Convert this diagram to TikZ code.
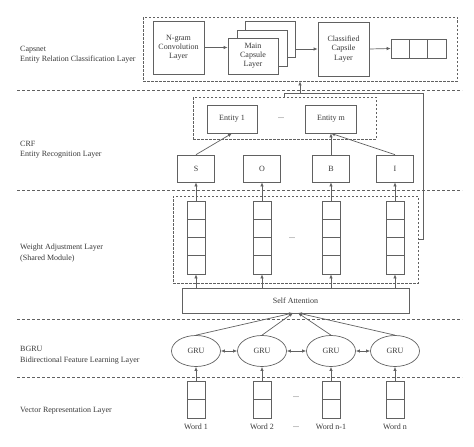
\documentclass[tikz,border=0pt]{standalone}
\usepackage{fontspec}
\setmainfont{Liberation Serif}
\usetikzlibrary{arrows.meta,shapes.geometric}
\definecolor{linegray}{gray}{0.38}
\definecolor{textgray}{gray}{0.22}
\tikzset{
  box/.style={draw=linegray,line width=0.7pt,inner sep=0pt,align=center,text=textgray,font=\fontsize{8}{9.2}\selectfont},
  cell/.style={draw=linegray,line width=0.7pt,minimum width=18pt,minimum height=18.25pt,inner sep=0pt},
  dashbox/.style={draw=linegray,line width=0.7pt,dash pattern=on 2.5pt off 1.5pt,inner sep=0pt},
  sepline/.style={draw=linegray,line width=0.7pt,dash pattern=on 3pt off 2pt},
  link/.style={draw=linegray,line width=0.7pt},
  arr/.style={link,-{Latex[length=4pt,width=3.5pt]}},
  darr/.style={link,{Latex[length=4pt,width=3.5pt]}-{Latex[length=4pt,width=3.5pt]}},
  grunode/.style={ellipse,box,minimum width=49pt,minimum height=31pt},
  lbl/.style={anchor=west,align=left,text=textgray,inner sep=0pt,font=\fontsize{8}{10.5}\selectfont},
  txt/.style={text=textgray,inner sep=0pt,font=\fontsize{8}{9.2}\selectfont},
}
\begin{document}
\begin{tikzpicture}[x=1pt,y=-1pt]
        \useasboundingbox (0,0) rectangle (474,447);
        % Draw layer separators
        \draw[sepline] (17,90) -- (462,90);
        \draw[sepline] (17,190) -- (462,190);
        \draw[sepline] (17,319) -- (462,319);
        \draw[sepline] (17,377) -- (462,377);
        % Draw layer names
        \node[lbl] (capname) at (20,54.5) {Capsnet\\Entity Relation Classification Layer};
        \node[lbl] (crfname) at (20,149.5) {CRF\\Entity Recognition Layer};
        \node[lbl] (wname) at (20,253) {Weight Adjustment Layer\\(Shared Module)};
        \node[lbl] (bgruname) at (20,355) {BGRU\\Bidirectional Feature Learning Layer};
        \node[lbl] (vecname) at (20,411) {Vector Representation Layer};
        % Draw capsule layer
        \node[dashbox,minimum width=314pt,minimum height=64pt] (capbox) at (300,49) {};
        \node[box,minimum width=51pt,minimum height=53pt] (ngram) at (178.5,47.5) {N-gram\\Convolution\\Layer};
        \node[box,minimum width=50pt,minimum height=36pt] (mainback) at (270,39) {};
        \node[box,fill=white,minimum width=50pt,minimum height=36pt] (mainmid) at (262,48) {};
        \node[box,fill=white,minimum width=50pt,minimum height=36pt] (mainfront) at (253,56) {Main\\Capsule\\Layer};
        \node[box,minimum width=51pt,minimum height=54pt] (classified) at (343.5,49) {Classified\\Capsile\\Layer};
        \foreach \x [count=\i] in {400.2,418.5,436.8}
            \node[cell,minimum width=18.3pt,minimum height=19pt] (out\i) at (\x,48.5) {};
        \draw[arr] (ngram.east) -- (ngram.east -| mainfront.west);
        \draw[arr] (classified.west -| mainback.east) -- (classified.west);
        \draw[arr] (classified.east) -- (out1.west);
        % Draw CRF layer
        \node[dashbox,minimum width=183pt,minimum height=42pt] (entbox) at (284.5,118) {};
        \node[box,minimum width=50pt,minimum height=28pt] (ent1) at (232,119) {Entity 1};
        \node[txt] (entdots) at (281,118) {...};
        \node[box,minimum width=51pt,minimum height=28pt] (entm) at (331,119) {Entity m};
        \foreach \x/\t [count=\i] in {196/S,262/O,331/B,395/I}
            \node[box,minimum width=37pt,minimum height=27pt] (tag\i) at (\x,168.5) {\t};
        \draw[arr] (tag1.north) -- (ent1.south);
        \draw[arr] (tag3.north) -- (entm.south);
        \draw[arr] (tag4.north) -- (entm.south);
        % Draw weight adjustment layer
        \node[dashbox,minimum width=245pt,minimum height=87pt] (wbox) at (295.5,239.5) {};
        \foreach \x [count=\i] in {196,262,331,395} {
            \foreach \k in {0,...,3}
                \node[cell] (w\i-\k) at (\x,210.125+18.25*\k) {};
            \draw[arr] (w\i-0.north) -- (tag\i.south);
        }
        \node[txt] (wdots) at (292,238) {...};
        \node[box,minimum width=227pt,minimum height=25pt] (selfatt) at (295.5,300.5) {Self Attention};
        \foreach \i in {1,...,4}
            \draw[arr] (selfatt.north -| w\i-3.south) -- (w\i-3.south);
        % Draw link to capsule layer
        \coordinate (turn) at (423,93);
        \draw[link] (entbox.north) |- (turn) |- (wbox.east);
        \draw[arr] (capbox.south |- turn) -- (capbox.south);
        % Draw BGRU layer
        \foreach \x [count=\i] in {196,262,331,395}
            \node[grunode] (gru\i) at (\x,351) {GRU};
        \foreach \i/\j in {1/2,2/3,3/4}
            \draw[darr] (gru\i.east) -- (gru\j.west);
        \coordinate (attl) at (293,313);
        \coordinate (attr) at (298,313);
        \draw[arr] (gru1.north) -- (attl);
        \draw[arr] (gru2.north) -- (attl);
        \draw[arr] (gru3.north) -- (attr);
        \draw[arr] (gru4.north) -- (attr);
        % Draw word vectors
        \foreach \x/\t [count=\i] in {196/Word 1,262/Word 2,331/Word n-1,395/Word n} {
            \node[cell,minimum height=18.5pt] (v\i-0) at (\x,390.25) {};
            \node[cell,minimum height=18.5pt] (v\i-1) at (\x,408.75) {};
            \node[txt] (word\i) at (\x,427) {\t};
            \draw[arr] (v\i-0.north) -- (gru\i.south);
        }
        \node[txt] (vdots) at (296,397) {...};
        \node[txt] (worddots) at (296,427) {...};
    \end{tikzpicture}
\end{document}
